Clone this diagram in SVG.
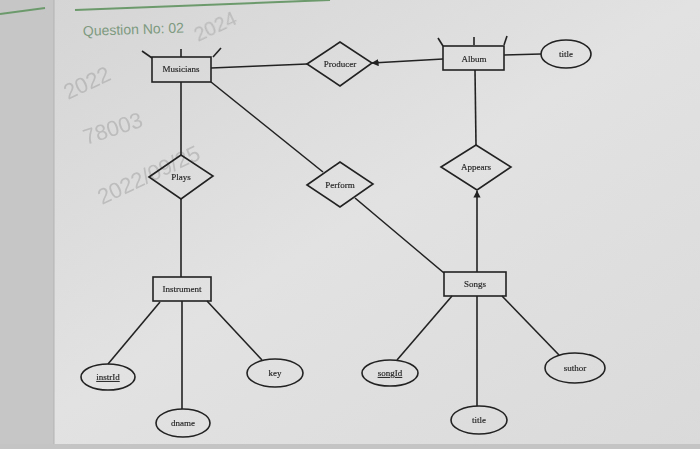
<svg xmlns="http://www.w3.org/2000/svg" width="700" height="449" viewBox="0 0 700 449">
<defs>
<linearGradient id="bg" x1="0" y1="0" x2="1" y2="1">
<stop offset="0" stop-color="#d4d4d4"/>
<stop offset="0.5" stop-color="#e2e2e2"/>
<stop offset="1" stop-color="#dadada"/>
</linearGradient>
<marker id="arr" viewBox="0 0 6 6" refX="5.5" refY="3" markerWidth="4.5" markerHeight="4.5" orient="auto-start-reverse">
<path d="M0,0 L6,3 L0,6 z" fill="#222"/>
</marker>
</defs>
<style>
.ln{stroke:#222;stroke-width:1.6;fill:none}
.sh{stroke:#222;stroke-width:1.6;fill:none}
.t{font-family:"Liberation Serif",serif;font-size:9px;fill:#1e1e1e;text-anchor:middle;stroke:#1e1e1e;stroke-width:0.15}
.wm{font-family:"Liberation Sans",sans-serif;fill:#a4a4a4;opacity:0.55}
</style>
<rect x="0" y="0" width="700" height="449" fill="url(#bg)"/>
<rect x="0" y="0" width="54" height="449" fill="#c6c6c6"/>
<line x1="54" y1="0" x2="54" y2="449" stroke="#b3b3b3" stroke-width="1"/>
<rect x="0" y="444" width="700" height="5" fill="#c4c4c4"/>
<line x1="0" y1="14" x2="45" y2="8" stroke="#6c9a6c" stroke-width="2"/>
<line x1="75" y1="10" x2="330" y2="0" stroke="#6c9a6c" stroke-width="2"/>
<text x="83" y="36" transform="rotate(-2 83 36)" font-family="Liberation Sans,sans-serif" font-size="14" fill="#7e9a80">Question No: 02</text>
<g class="wm">
<text x="68" y="100" font-size="22" transform="rotate(-25 68 100)">2022</text>
<text x="198" y="42" font-size="20" transform="rotate(-25 198 42)">2024</text>
<text x="86" y="145" font-size="22" transform="rotate(-18 86 145)">78003</text>
<text x="102" y="205" font-size="22" transform="rotate(-25 102 205)">2022/09/25</text>
</g>
<g id="connectors">
<line class="ln" x1="211" y1="68" x2="307" y2="64"/>
<line class="ln" x1="443" y1="59" x2="372" y2="63" marker-end="url(#arr)"/>
<line class="ln" x1="504" y1="55" x2="541" y2="54"/>
<line class="ln" x1="475" y1="70" x2="476" y2="145"/>
<line class="ln" x1="477" y1="272" x2="477" y2="191" marker-end="url(#arr)"/>
<line class="ln" x1="211" y1="82" x2="323" y2="172"/>
<line class="ln" x1="355" y1="198" x2="444" y2="273"/>
<line class="ln" x1="181" y1="82" x2="181" y2="155"/>
<line class="ln" x1="181" y1="199" x2="181" y2="277"/>
<line class="ln" x1="160" y1="302" x2="108" y2="364"/>
<line class="ln" x1="182" y1="301" x2="182" y2="409"/>
<line class="ln" x1="207" y1="301" x2="262" y2="360"/>
<line class="ln" x1="452" y1="296" x2="397" y2="360"/>
<line class="ln" x1="477" y1="296" x2="477" y2="406"/>
<line class="ln" x1="502" y1="296" x2="559" y2="355"/>
<line class="ln" x1="142" y1="51" x2="152" y2="58"/>
<line class="ln" x1="181" y1="49" x2="181" y2="57"/>
<line class="ln" x1="221" y1="48" x2="213" y2="57"/>
<line class="ln" x1="438" y1="38" x2="443" y2="46"/>
<line class="ln" x1="474" y1="37" x2="474" y2="45"/>
<line class="ln" x1="507" y1="36" x2="504" y2="45"/>
</g>
<g id="musicians"><rect class="sh" x="152" y="57" width="59" height="25"/><text class="t" x="181" y="72">Musicians</text></g>
<g id="producer"><polygon class="sh" points="307,64 340,42 372,63 340,86"/><text class="t" x="340" y="67">Producer</text></g>
<g id="album"><rect class="sh" x="443" y="46" width="61" height="24"/><text class="t" x="474" y="62">Album</text></g>
<g id="album-title"><ellipse class="sh" cx="566" cy="54" rx="25" ry="14"/><text class="t" x="566" y="57">title</text></g>
<g id="appears"><polygon class="sh" points="441,167 476,145 511,167 477,190"/><text class="t" x="476" y="170">Appears</text></g>
<g id="perform"><polygon class="sh" points="307,185 340,162 373,184 340,207"/><text class="t" x="340" y="188">Perform</text></g>
<g id="plays"><polygon class="sh" points="149,177 181,155 213,176 181,199"/><text class="t" x="181" y="180">Plays</text></g>
<g id="instrument"><rect class="sh" x="153" y="277" width="58" height="24"/><text class="t" x="182" y="292">Instrument</text></g>
<g id="songs"><rect class="sh" x="444" y="272" width="62" height="24"/><text class="t" x="475" y="287">Songs</text></g>
<g id="instrId"><ellipse class="sh" cx="108" cy="377" rx="27" ry="13"/><text class="t" x="108" y="380" text-decoration="underline">instrId</text></g>
<g id="dname"><ellipse class="sh" cx="183" cy="423" rx="27" ry="14"/><text class="t" x="183" y="426">dname</text></g>
<g id="key"><ellipse class="sh" cx="275" cy="373" rx="28" ry="14"/><text class="t" x="275" y="376">key</text></g>
<g id="songId"><ellipse class="sh" cx="390" cy="373" rx="28" ry="13"/><text class="t" x="390" y="376" text-decoration="underline">songId</text></g>
<g id="song-title"><ellipse class="sh" cx="479" cy="420" rx="28" ry="14"/><text class="t" x="479" y="423">title</text></g>
<g id="suthor"><ellipse class="sh" cx="575" cy="368" rx="30" ry="15"/><text class="t" x="575" y="371">suthor</text></g>
</svg>
